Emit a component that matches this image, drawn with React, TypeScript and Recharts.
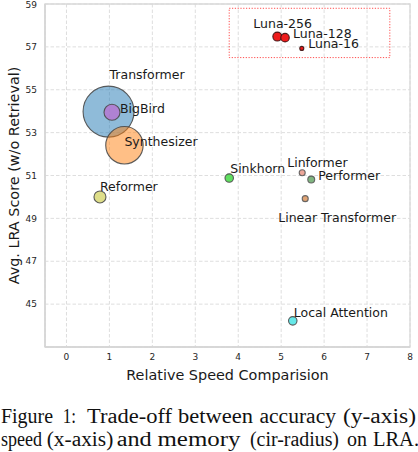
import React from 'react';
import { ScatterChart, Scatter, XAxis, YAxis, ZAxis, CartesianGrid, ReferenceArea } from 'recharts';

// ---- data ----
const MODELS = [
  'Transformer', 'BigBird', 'Synthesizer', 'Reformer', 'Sinkhorn', 'Linformer',
  'Performer', 'Linear Transformer', 'Local Attention', 'Luna-256', 'Luna-128', 'Luna-16',
];
const SPEED = [0.98, 1.06, 1.35, 0.78, 3.79, 5.49, 5.70, 5.56, 5.27, 4.91, 5.09, 5.48];
const SCORE = [53.98, 53.95, 52.41, 50.0, 50.88, 51.13, 50.81, 49.92, 44.22, 57.48, 57.43, 56.93];
const MEMORY = [650, 64, 350, 36, 18, 9, 12, 9, 18, 20, 18, 4];

const X_TICKS = [0, 1, 2, 3, 4, 5, 6, 7, 8];
const Y_TICKS = [45, 47, 49, 51, 53, 55, 57, 59];
const X_DOMAIN = [-0.5, 8];
const Y_DOMAIN = [43, 59];
const LUNA_BOX = { x1: 3.79, x2: 7.53, y1: 56.5, y2: 58.8 };

const X_LABEL = 'Relative Speed Comparision';
const Y_LABEL = 'Avg. LRA Score (w/o Retrieval)';

// ---- styles ----
const FILLS: Record<string, { fill: string; opacity: number; stroke: string }> = {
  'Transformer': { fill: '#1f77b4', opacity: 0.5, stroke: '#4a4a4a' },
  'BigBird': { fill: '#b96fd0', opacity: 0.75, stroke: '#4a4a4a' },
  'Synthesizer': { fill: '#ff7f0e', opacity: 0.5, stroke: '#4a4a4a' },
  'Reformer': { fill: '#c8c83a', opacity: 0.6, stroke: '#4a4a4a' },
  'Sinkhorn': { fill: '#4fdc4f', opacity: 0.9, stroke: '#4a4a4a' },
  'Linformer': { fill: '#eb9d8f', opacity: 0.9, stroke: '#5a5a5a' },
  'Performer': { fill: '#72ad72', opacity: 0.9, stroke: '#5a5a5a' },
  'Linear Transformer': { fill: '#dd9a66', opacity: 0.9, stroke: '#5a5a5a' },
  'Local Attention': { fill: '#55e6e6', opacity: 0.9, stroke: '#4a4a4a' },
  'Luna-256': { fill: '#ee1c1c', opacity: 1, stroke: '#3a1010' },
  'Luna-128': { fill: '#ee1c1c', opacity: 1, stroke: '#3a1010' },
  'Luna-16': { fill: '#ee1c1c', opacity: 1, stroke: '#3a1010' },
};

const LABEL_OFFSETS: Record<string, [number, number]> = {
  'Transformer': [1, -33],
  'BigBird': [8, 1],
  'Synthesizer': [0, 0.5],
  'Reformer': [0, -5.5],
  'Sinkhorn': [1, -5],
  'Linformer': [-15, -6],
  'Performer': [7, 0],
  'Linear Transformer': [-27, 23],
  'Local Attention': [1, -4],
  'Luna-256': [-24, -9],
  'Luna-128': [8, 0],
  'Luna-16': [6.5, 0],
};

const FONT = '"DejaVu Sans", sans-serif';
const SERIF = '"Liberation Serif", serif';

const data = MODELS.map((name, i) => ({ name, speed: SPEED[i], score: SCORE[i], memory: MEMORY[i] }));

const Bubble = (p: any) => {
  const s = FILLS[p.payload.name];
  const r = Math.sqrt(Math.max(p.size, 0) / Math.PI);
  return (
    <circle cx={p.cx} cy={p.cy} r={r} fill={s.fill} fillOpacity={s.opacity}
      stroke={s.stroke} strokeWidth={1.1} strokeOpacity={0.9} />
  );
};

const BubbleLabel = (p: any) => {
  const [dx, dy] = LABEL_OFFSETS[p.payload.name];
  return (
    <text x={p.cx + dx} y={p.cy + dy} fontSize={12.5} fontFamily={FONT} fill="#1a1a1a">
      {p.payload.name}
    </text>
  );
};

// caption words: [word, left x, width] (justified LaTeX line)
const CAPTION_1: [string, number, number][] = [
  ['Figure', 1, 52], ['1:', 62.7, 13.3], ['Trade-off', 87, 85], ['between', 178, 75],
  ['accuracy', 259.5, 76.5], ['(y-axis)', 343, 73], ['and', 425, 35],
];
const CAPTION_2: [string, number, number][] = [
  ['speed', 1, 41], ['(x-axis)', 46.7, 66.6], ['and', 116.7, 35], ['memory', 157.5, 83],
  ['(cir-radius)', 250, 89], ['on', 347, 20], ['LRA.', 373, 46],
];

const CaptionLine = ({ words, y }: { words: [string, number, number][]; y: number }) => (
  <g>
    {words.map(([w, x, len]) => (
      <text key={w + x} x={x} y={y} fontSize={20} fontFamily={SERIF} fill="#111"
        textLength={len} lengthAdjust="spacingAndGlyphs">{w}</text>
    ))}
  </g>
);

export default function App() {
  return (
    <div style={{ position: 'absolute', left: 0, top: 0, width: 418, height: 452, overflow: 'hidden', background: '#fff' }}>
      <ScatterChart width={418} height={400} margin={{ top: 4, right: 8, bottom: 23, left: 0 }}>
        <CartesianGrid stroke="#dedede" strokeDasharray="3.5 2" strokeWidth={1} />
        <ReferenceArea x1={X_DOMAIN[0]} x2={X_DOMAIN[1]} y1={Y_DOMAIN[0]} y2={Y_DOMAIN[1]}
          fill="none" stroke="#d9d9d9" strokeWidth={1.3} ifOverflow="visible" />
        <XAxis type="number" dataKey="speed" domain={X_DOMAIN} ticks={X_TICKS} allowDataOverflow
          height={30} axisLine={{ stroke: '#d5d5d5', strokeWidth: 1.5 }} tickLine={false} tickSize={6} tickMargin={1}
          tick={{ fontSize: 9, fill: '#262626', fontFamily: FONT }}
          label={{ value: X_LABEL, position: 'insideBottom', offset: -3, style: { fontSize: 14.4, fill: '#1a1a1a', fontFamily: FONT } }} />
        <YAxis type="number" dataKey="score" domain={Y_DOMAIN} ticks={Y_TICKS} allowDataOverflow
          width={45} axisLine={{ stroke: '#d5d5d5', strokeWidth: 1.5 }} tickLine={false} tickSize={6} tickMargin={2}
          tick={{ fontSize: 9, fill: '#262626', fontFamily: FONT }}
          label={{ value: Y_LABEL, angle: -90, position: 'insideLeft', offset: 14,
            style: { fontSize: 14.4, fill: '#1a1a1a', fontFamily: FONT, textAnchor: 'middle' } }} />
        <ZAxis type="number" dataKey="memory" domain={[0, 1000]} range={[0, 1000 * Math.PI]} />
        <ReferenceArea x1={LUNA_BOX.x1} x2={LUNA_BOX.x2} y1={LUNA_BOX.y1} y2={LUNA_BOX.y2}
          fill="none" stroke="#ff2020" strokeOpacity={0.8} strokeWidth={1} strokeDasharray="1.2 1.6" />
        <Scatter data={data} isAnimationActive={false} shape={Bubble} />
        <Scatter data={data} isAnimationActive={false} shape={BubbleLabel} />
      </ScatterChart>
      <svg width={418} height={452} style={{ position: 'absolute', left: 0, top: 0, pointerEvents: 'none' }}>
        <CaptionLine words={CAPTION_1} y={422.7} />
        <CaptionLine words={CAPTION_2} y={446} />
      </svg>
    </div>
  );
}
